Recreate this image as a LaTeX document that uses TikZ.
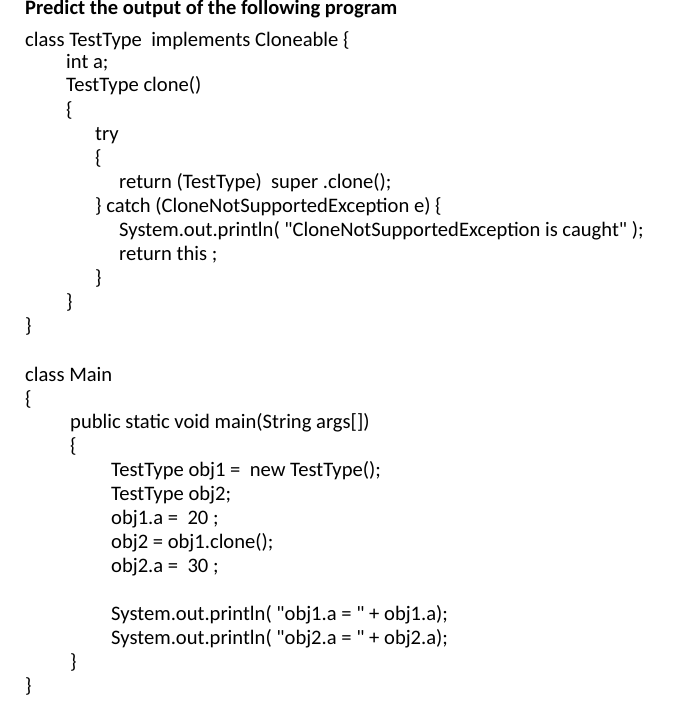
\documentclass[tikz,border=0pt]{standalone}
\usepackage{fontspec}
\setmainfont{Carlito}[Ligatures=TeXOff]
\newcommand{\dq}{\symbol{34}}
\begin{document}
\begin{tikzpicture}[x=1pt,y=1pt,code/.style={anchor=base west,inner sep=0pt,font=\fontsize{20.6}{22}\selectfont}]
\useasboundingbox[fill=white] (0,0) rectangle (675,-712);
\node[code,font=\bfseries\fontsize{20.5}{22}\selectfont] (t) at (25,-14) {Predict the output of the following program};
\node[code] (l1) at (25,-46) {class TestType\ \ implements Cloneable \{};
\node[code] (l2) at (66,-68) {int a;};
\node[code] (l3) at (66,-91) {TestType clone()};
\node[code] (l4) at (66,-116) {\{};
\node[code] (l5) at (95,-140) {try};
\node[code] (l6) at (95,-164) {\{};
\node[code] (l7) at (119,-188) {return (TestType)\ \ super .clone();};
\node[code] (l8) at (95,-212) {\} catch (CloneNotSupportedException e) \{};
\node[code] (l9) at (119,-236) {System.out.println( \dq CloneNotSupportedException is caught\dq\ );};
\node[code] (l10) at (119,-260) {return this ;};
\node[code] (l11) at (95,-284) {\}};
\node[code] (l12) at (66,-308) {\}};
\node[code] (l13) at (25,-332) {\}};
\node[code] (m1) at (25,-381) {class Main};
\node[code] (m2) at (25,-405) {\{};
\node[code] (m3) at (70,-428) {public static void main(String args[])};
\node[code] (m4) at (70,-452) {\{};
\node[code] (m5) at (111,-476) {TestType obj1 =\ \ new TestType();};
\node[code] (m6) at (111,-500) {TestType obj2;};
\node[code] (m7) at (111,-524) {obj1.a =\ \ 20 ;};
\node[code] (m8) at (111,-548) {obj2 = obj1.clone();};
\node[code] (m9) at (111,-572) {obj2.a =\ \ 30 ;};
\node[code] (m10) at (111,-620) {System.out.println( \dq obj1.a = \dq\ + obj1.a);};
\node[code] (m11) at (111,-644) {System.out.println( \dq obj2.a = \dq\ + obj2.a);};
\node[code] (m12) at (70,-668) {\}};
\node[code] (m13) at (25,-692) {\}};
\end{tikzpicture}
\end{document}
